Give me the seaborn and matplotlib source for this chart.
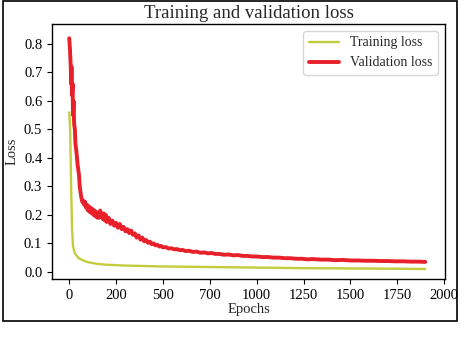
import matplotlib
matplotlib.use("Agg")
import matplotlib.pyplot as plt
import seaborn as sns
import pandas as pd
from matplotlib.patches import Rectangle

# ---- data ----
train_epochs = [0, 5, 10, 15, 20, 30, 50, 75, 100, 150, 200, 300, 500, 750, 1000, 1250, 1500, 1750, 1899]
train_loss = [0.56, 0.50, 0.30, 0.15, 0.09, 0.065, 0.048, 0.040, 0.034, 0.028, 0.025, 0.022, 0.019, 0.017, 0.015, 0.013, 0.012, 0.011, 0.010]

val_epochs = [0, 4, 8, 10, 12, 15, 18, 20, 23, 26, 30, 33, 37, 40, 44, 48, 52, 56, 60, 65,
              70, 75, 80, 85, 90, 95, 100, 105, 110, 115, 120, 125, 130, 135, 140, 145, 150, 155, 160, 165,
              170, 175, 180, 185, 190, 195, 200, 210, 220, 230, 240, 250, 260, 270, 280, 290, 300, 310, 320, 330,
              340, 350, 360, 370, 380, 390, 400, 410, 420, 430, 440, 450, 460, 470, 480, 490, 500, 515, 530, 545,
              560, 575, 590, 605, 620, 640, 660, 680, 700, 720, 740, 760, 780, 800, 825, 850, 875, 900, 925, 950,
              975, 1000, 1030, 1060, 1090, 1120, 1150, 1180, 1210, 1240, 1270, 1300, 1340, 1380, 1420, 1460, 1500, 1540, 1580, 1620,
              1660, 1700, 1740, 1780, 1820, 1860, 1899]
val_loss = [0.82, 0.78, 0.72, 0.66, 0.72, 0.62, 0.66, 0.55, 0.60, 0.52, 0.50, 0.45, 0.43, 0.41, 0.38, 0.36, 0.34, 0.30, 0.28, 0.26,
            0.245, 0.25, 0.235, 0.245, 0.225, 0.235, 0.215, 0.23, 0.21, 0.225, 0.205, 0.22, 0.20, 0.215, 0.195, 0.21, 0.19, 0.205, 0.19, 0.215,
            0.195, 0.205, 0.185, 0.205, 0.18, 0.20, 0.175, 0.19, 0.168, 0.18, 0.162, 0.172, 0.155, 0.168, 0.15, 0.158, 0.142, 0.15, 0.136, 0.145,
            0.13, 0.135, 0.12, 0.128, 0.113, 0.12, 0.107, 0.112, 0.102, 0.106, 0.097, 0.100, 0.093, 0.095, 0.089, 0.091, 0.086, 0.087, 0.082, 0.083,
            0.079, 0.080, 0.076, 0.077, 0.073, 0.074, 0.070, 0.071, 0.067, 0.068, 0.065, 0.066, 0.063, 0.063, 0.060, 0.061, 0.058, 0.059, 0.056, 0.056,
            0.054, 0.054, 0.052, 0.052, 0.050, 0.050, 0.048, 0.048, 0.046, 0.046, 0.044, 0.045, 0.043, 0.043, 0.041, 0.042, 0.040, 0.040, 0.039, 0.039,
            0.038, 0.038, 0.037, 0.037, 0.036, 0.036, 0.035]

x_ticks = [0, 250, 500, 750, 1000, 1250, 1500, 1750, 2000]
x_tick_labels = ["0", "200", "500", "700", "1000", "1250", "1500", "1750", "2000"]
y_ticks = [0.0, 0.1, 0.2, 0.3, 0.4, 0.5, 0.6, 0.7, 0.8]

sns.set_style("ticks")
plt.rcParams["font.family"] = ["Liberation Serif", "DejaVu Serif"]

fig = plt.figure(figsize=(4.74, 3.38), dpi=100)
ax = fig.add_axes([0.1097, 0.1746, 0.8293, 0.7544])

train_df = pd.DataFrame({"Epochs": train_epochs, "Loss": train_loss})
val_df = pd.DataFrame({"Epochs": val_epochs, "Loss": val_loss})

sns.lineplot(data=train_df, x="Epochs", y="Loss", ax=ax, color="#c3cd3c", lw=1.7, label="Training loss")
sns.lineplot(data=val_df, x="Epochs", y="Loss", ax=ax, color="#e8202a", lw=2.8, label="Validation loss")

ax.set_xlim(-92, 2005)
ax.set_ylim(-0.025, 0.87)
ax.set_xticks(x_ticks)
ax.set_xticklabels(x_tick_labels)
ax.set_yticks(y_ticks)
ax.set_yticklabels([f"{v:.1f}" for v in y_ticks])
ax.tick_params(labelsize=10.5, colors="black", length=3.5, width=0.8)
for s in ax.spines.values():
    s.set_visible(True)
    s.set_color("black")
    s.set_linewidth(1.0)

ax.set_title("Training and validation loss", fontsize=13.5, pad=4)
ax.set_xlabel("Epochs", fontsize=10.5, labelpad=1)
ax.set_ylabel("Loss", fontsize=10.5, labelpad=4)

leg = ax.legend(loc="upper right", fontsize=10, frameon=True, handlelength=2.2)
leg.get_frame().set_edgecolor("#cccccc")

fig.patches.append(Rectangle((3 / 474, 1 - 321 / 338), 454 / 474, 321 / 338 - 0.002,
                             transform=fig.transFigure, fill=False, edgecolor="black", lw=1.2))

fig.savefig("out.png", dpi=100)
